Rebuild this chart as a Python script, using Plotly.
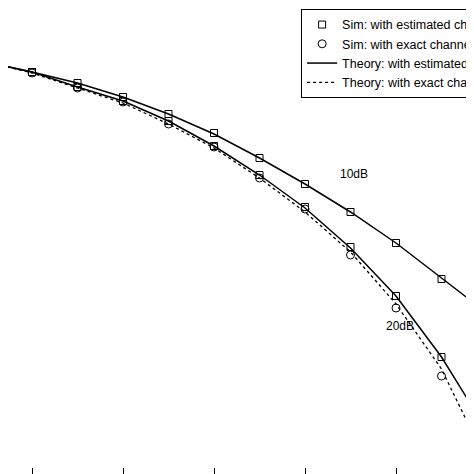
import plotly.graph_objects as go

x_sim = [1, 2, 3, 4, 5, 6, 7, 8, 9, 10]
sq10 = [402, 391, 377, 360, 341, 316, 290, 262, 231, 195]
sq20 = [402, 387, 373, 353, 328, 299, 267, 227, 178, 117]
ci20 = [401, 386, 372, 350, 327, 296, 265, 219, 166, 98]
x_th = [0.2, 1, 2, 3, 4, 5, 6, 7, 8, 9, 10, 10.8]
th10_est = [410, 402, 391, 377, 360, 340, 316, 290, 262, 231, 196, 168]
th20_est = [410, 402, 387, 373, 353, 328, 299, 266, 226, 178, 117, 58]
th20_ex = [410, 401, 386, 371, 350, 326, 296, 262, 222, 170, 105, 30]

fig = go.Figure()
fig.add_trace(go.Scatter(x=x_sim, y=sq10, mode='markers', name='Sim: with estimated channel',
    marker=dict(symbol='square-open', size=7, color='black', line=dict(width=1))))
fig.add_trace(go.Scatter(x=x_sim, y=ci20, mode='markers', name='Sim: with exact channel',
    marker=dict(symbol='circle-open', size=8, color='black', line=dict(width=1))))
fig.add_trace(go.Scatter(x=x_th, y=th10_est, mode='lines', name='Theory: with estimated channel',
    line=dict(color='black', width=1.5)))
fig.add_trace(go.Scatter(x=x_th, y=th20_ex, mode='lines', name='Theory: with exact channel',
    line=dict(color='black', width=1.3, dash='dot')))
fig.add_trace(go.Scatter(x=x_th, y=th20_est, mode='lines', showlegend=False,
    line=dict(color='black', width=1.5)))
fig.add_trace(go.Scatter(x=x_sim, y=sq20, mode='markers', showlegend=False,
    marker=dict(symbol='square-open', size=7, color='black', line=dict(width=1))))

fig.add_annotation(x=8.07, y=300, text='10dB', showarrow=False, font=dict(size=12, color='black'))
fig.add_annotation(x=9.08, y=148, text='20dB', showarrow=False, font=dict(size=12, color='black'))

fig.update_layout(
    width=466, height=466, margin=dict(l=0, r=0, t=0, b=0, autoexpand=False),
    plot_bgcolor='white', paper_bgcolor='white',
    font=dict(family='Liberation Sans, Arial', size=12, color='black'),
    xaxis=dict(range=[0.4725, 10.714], tickvals=[1, 3, 5, 7, 9], showticklabels=False,
               ticks='inside', ticklen=6, tickcolor='black', showgrid=False, zeroline=False,
               showline=True, linecolor='#888', linewidth=2, mirror=True),
    yaxis=dict(range=[0, 466], showticklabels=False, showgrid=False, zeroline=False,
               showline=False),
    legend=dict(x=0.629, y=0.998, xanchor='left', yanchor='top', bordercolor='black',
                borderwidth=1, bgcolor='white', font=dict(size=12.5), tracegroupgap=0,
                itemwidth=30),
)
fig.write_html('out.html')
